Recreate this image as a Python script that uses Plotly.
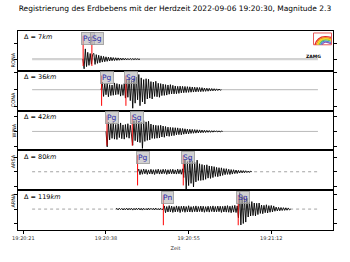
import plotly.graph_objects as go
from plotly.subplots import make_subplots

# Stationen, Epizentraldistanzen, Phaseneinsätze (Sekunden nach 19:20:00)
stations = ["RONA", "CONA", "WINA", "ARSA", "ARNA"]
distances = [7, 36, 42, 80, 119]
picks = [
    [("Pg", 33.3), ("Sg", 35.1)],
    [("Pg", 37.1), ("Sg", 42.1)],
    [("Pg", 38.2), ("Sg", 43.4)],
    [("Pg", 44.5), ("Sg", 53.9)],
    [("Pn", 49.8), ("Sg", 65.2)],
]

record_start = 22.8
record_end = 81.6
step = 0.25

tick_times = [21, 38, 55, 72]
tick_labels = ["19:20:21", "19:20:38", "19:20:55", "19:21:12"]

# Seismogramme (Amplitude in 1/100 der Skalenteilung), Beginn jeweils bei *_start
rona_start = 33.25
rona = [0, -62, 66, -48, 44, -40, 36, -33, 30, 37, -34, 29, -27, 25, -23, 21, -19, 18, -17, 15,
        -14, 13, -12, 12, -10, 10, -9, 9, -8, 8, -7, 7, -6, 6, -5, 5, -5, 4, -4, 4,
        -3, 3, -3, 3, -2, 2, -2, 0]

cona_start = 37.0
cona = [0, 45, -40, 35, -30, 38, -42, 30, -35, 28, -33, 40, -30, 36, -28, 32, -38, 30, -34, 36,
        -50, 60, -45, 70, -65, 55, -110, 68, -80, 75, -60, 90, -95, 70, -72, 60, -85, 65, -55, 62,
        -50, 48, -55, 45, -40, 50, -42, 38, -45, 36, -35, 33,
        -34, 30, -32, 28, -27, 30, -25, 26,
        -25, 22, -24, 20, -22, 21, -19, 20, -18, 19, -17, 18, -16, 17, -15, 16, -14, 15, -13, 14,
        -12, 13, -12, 12,
        -11, 10, -10, 9, -9, 8, -8, 7, -7, 6, -6, 5, -5, 4, -3, 0]

wina_start = 38.0
wina = [0, -100, 60, -55, 50, -45, 58, -50, 45, -52, 48, -40, 55, -47, 42, -50, 45, -38, 50, -44, 40,
        -45, -90, 70, -60, 75, -68, 65, -72, 60, -110, 70, -65, 62, -58, 66, -55,
        48, -45, 42, -46, 40, -44, 38, -42, 40, -36, 35, -38,
        32, -30, 28, -32, 26, -28, 25, -27, 24, -22, 23, -21, 20, -22, 19, -18,
        17, -16, 15, -16, 14, -13, 13, -12, 12, -11, 11, -10, 10, -9, 9, -8,
        8, -7, 7, -6, 6, -6, 5, -5, 5, -4, 4, -3, 3, -3, 2, 0]

arsa_start = 44.5
arsa = [0, 18, -20, 15, -17, 19, -14, 16, -18, 13, -15, 17, -16, 14, -19, 15, -13, 18, -16, 14,
        -15, 17, -13, 16, -18, 14, -15, 16, -14, 17, -15, 13, -16, 18, -14, 15, -17, 20,
        -40, 85, -120, 70, -95, 90, -80, 75, -105, 65, -70, 80, -60,
        55, -60, 50, -58, 45, -52, 48, -44, 40, -46, 38, -40,
        35, -32, 30, -34, 28, -30, 27, -25,
        22, -20, 21, -18, 17, -19, 15, -16, 14, -13, 12, -12,
        10, -9, 9, -8, 8, -7, 7, -6, 5, -5, 4, 0]

arna_start = 40.0
arna = [0, 4, -5, 6, -4, 5, -6, 4, -5, 7, -6, 5, -4, 6, -7, 5, -5, 6, -4, 7,
        -6, 5, -7, 6, -5, 4, -6, 7, -5, 6, -4, 5, -6, 7, -5, 4, -6, 5, -4,
        0, 22, -25, 18, -20, 24, -19, 21, -23, 17, -20, 22, -18, 19, -24, 20, -17, 21, -22, 18,
        -19, 23, -20, 17, -21, 19, -18, 22, -20, 18, -17, 21, -19, 20, -22, 17, -18, 20, -21, 19,
        -17, 22, -20, 18, -19, 21, -18, 20, -23, 19, -20, 22, -21, 24, -22, 20, -25, 23, -21, 26,
        -24, 22,
        -60, 115, -110, 95, -100, 80, -90, 75,
        -55, 50, -48, 52, -45, 42, -47, 40, -38, 42,
        -30, 28, -32, 26, -25, 30, -27, 24, -22, 25, -20, 22,
        -15, 14, -13, 12, -12, 11, -10, 10, -9, 9, -8, 8, -6, 0]

waves = [(rona_start, rona), (cona_start, cona), (wina_start, wina),
         (arsa_start, arsa), (arna_start, arna)]

# Darstellung
band_styles = [
    dict(color="#d2d2d2", width=2.2, dash="solid"),
    dict(color="#9a9a9a", width=0.7, dash="solid"),
    dict(color="#9a9a9a", width=0.7, dash="solid"),
    dict(color="#666666", width=0.6, dash="dot"),
    dict(color="#666666", width=0.6, dash="dot"),
]
y_ranges = [[-0.75, 1.81], [-1.24, 1.12], [-1.23, 1.35], [-1.27, 1.47], [-1.45, 1.31]]

FONT = "DejaVu Sans"
L, R, T, B = 18, 17, 31, 29
W, H = 350, 262


def px(x):
    return (x - L) / (W - L - R)


def py(y):
    return (H - B - y) / (H - T - B)


fig = make_subplots(rows=5, cols=1, shared_xaxes=True, vertical_spacing=0)

for i, name in enumerate(stations):
    row = i + 1
    fig.add_trace(go.Scatter(
        x=[record_start, record_end], y=[0, 0], mode="lines",
        line=band_styles[i], hoverinfo="skip", showlegend=False
    ), row=row, col=1)
    start, vals = waves[i]
    t = [start + k * step for k in range(len(vals))]
    fig.add_trace(go.Scatter(
        x=t, y=[v / 100 for v in vals], mode="lines",
        line=dict(color="black", width=0.9), showlegend=False, name=name
    ), row=row, col=1)

    sfx = "" if row == 1 else str(row)
    for phase, tp in picks[i]:
        fig.add_shape(type="line", xref="x" + sfx, yref="y" + sfx + " domain",
                      x0=tp, x1=tp, y0=0.12, y1=0.88,
                      line=dict(color="red", width=1))
        fig.add_annotation(x=tp, y=0.82, xref="x" + sfx, yref="y" + sfx + " domain",
                           text=phase, showarrow=False, xanchor="left", yanchor="middle",
                           xshift=-2,
                           font=dict(family=FONT, size=7.5, color="#2a2aa8"),
                           bgcolor="rgba(185,185,185,0.65)",
                           bordercolor="rgba(150,150,150,0.8)", borderwidth=1, borderpad=1)
    fig.add_annotation(x=0.012, y=0.99, xref="x" + sfx + " domain", yref="y" + sfx + " domain",
                       text="Δ = %d<i>km</i>" % distances[i], showarrow=False,
                       xanchor="left", yanchor="top",
                       font=dict(family=FONT, size=6.5, color="black"))
    fig.add_annotation(x=px(8), y=py(T + (H - T - B) * (i + 0.5) / 5), xref="paper", yref="paper",
                       text=name, textangle=-90, showarrow=False,
                       font=dict(family=FONT, size=5, color="black"))

    fig.update_yaxes(range=y_ranges[i], tickvals=[-1, 0, 1], showticklabels=False,
                     ticks="outside", ticklen=3, tickcolor="black", tickwidth=1,
                     showline=True, linecolor="black", linewidth=1, mirror="ticks",
                     showgrid=False, zeroline=False, row=row, col=1)
    fig.update_xaxes(range=[19.9, 84.7], showgrid=False, zeroline=False,
                     showline=True, linecolor="black", linewidth=1, mirror=True,
                     ticks="outside" if row == 5 else "", ticklen=3, tickcolor="black",
                     tickvals=tick_times, ticktext=tick_labels,
                     showticklabels=(row == 5),
                     tickfont=dict(family=FONT, size=5, color="#333333"),
                     row=row, col=1)

fig.update_xaxes(title=dict(text="Zeit", font=dict(family=FONT, size=5, color="#333333"),
                            standoff=6), row=5, col=1)

# ZAMG-Logo
fig.add_shape(type="rect", xref="paper", yref="paper",
              x0=px(313.5), x1=px(331.5), y0=py(45), y1=py(33),
              line=dict(color="#e85a5a", width=1))
rainbow = ["#e4252a", "#f08a1c", "#f5d80f", "#7cc242", "#3a8fd8", "#8a55b8"]
for k, c in enumerate(rainbow):
    x0, y0 = px(315 + k * 1.4), py(45)
    cx, cy = px(318 + k * 1.2), py(34 + k * 1.2)
    x1, y1 = px(331), py(37.5 + k * 1.3)
    fig.add_shape(type="path", xref="paper", yref="paper",
                  path="M %f,%f Q %f,%f %f,%f" % (x0, y0, cx, cy, x1, y1),
                  fillcolor="rgba(0,0,0,0)",
                  line=dict(color=c, width=1.3))
fig.add_annotation(x=px(322.5), y=py(52), xref="paper", yref="paper", text="<b>ZAMG</b>",
                   showarrow=False, font=dict(family=FONT, size=4.5, color="black"))

fig.update_layout(
    width=W, height=H,
    margin=dict(l=L, r=R, t=T, b=B),
    plot_bgcolor="white", paper_bgcolor="white",
    title=dict(text="Registrierung des Erdbebens mit der Herdzeit 2022-09-06 19:20:30, Magnitude 2.3",
               x=0.5, xref="container", y=1 - 8 / H, yanchor="middle",
               font=dict(family=FONT, size=7.5, color="black")),
    showlegend=False,
)

fig.write_html("out.html", config={"displayModeBar": False},
               post_script="document.body.style.margin='0';")
